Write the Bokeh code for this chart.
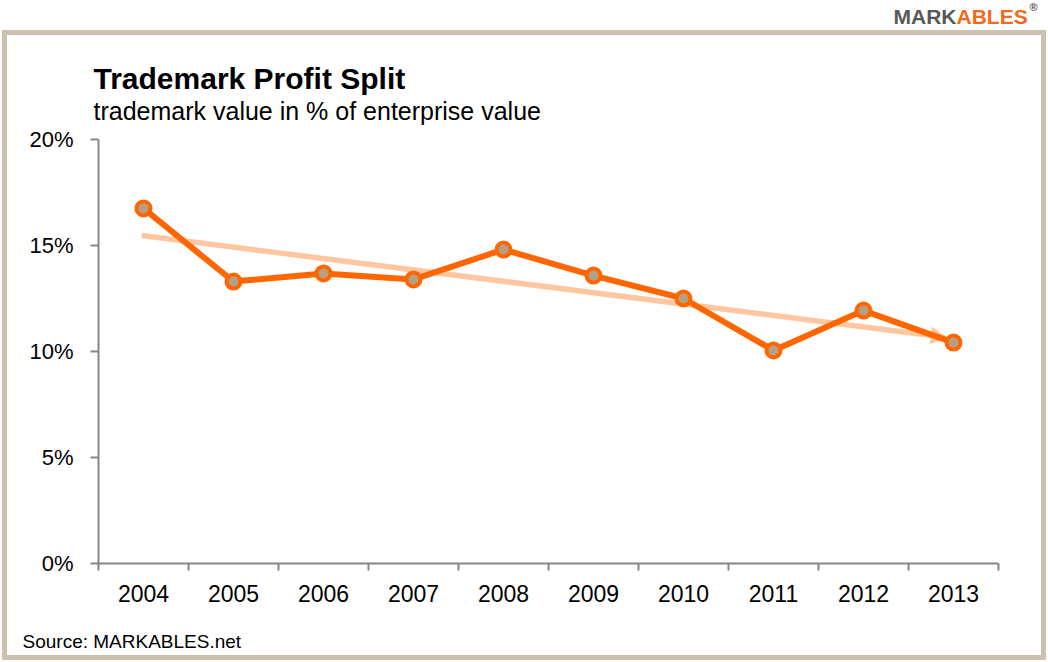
import numpy as np
from bokeh.plotting import figure
from bokeh.models import (Range1d, FixedTicker, NumeralTickFormatter, Label,
                          Arrow, NormalHead, ColumnDataSource)
from bokeh.embed import file_html
from bokeh.resources import INLINE

# ---------------- data ----------------
years = ["2004", "2005", "2006", "2007", "2008", "2009", "2010", "2011", "2012", "2013"]
tm_share = [0.1675, 0.1330, 0.1368, 0.1340, 0.1481, 0.1358, 0.1250, 0.1005, 0.1193, 0.1042]
y_ticks = [0.0, 0.05, 0.10, 0.15, 0.20]

title_text = "Trademark Profit Split"
subtitle_text = "trademark value in % of enterprise value"
source_text = "Source: MARKABLES.net"

# ---------------- layout ----------------
W, H = 1048, 662
FL, FR, FT, FB = 98, 998, 139, 563
X0, X1 = 0.0, float(len(years))
Y0, Y1 = 0.0, 0.20

def dx(fx):
    return X0 + (fx - FL) * (X1 - X0) / (FR - FL)

def dy(fy):
    return Y1 - (fy - FT) * (Y1 - Y0) / (FB - FT)

FONT = "Liberation Sans"
ORANGE = "#FF6600"
PEACH = "#FFC7A1"
GREY = "#868686"
BEIGE = "#CEC0AE"

p = figure(width=W, height=H, x_range=Range1d(X0, X1), y_range=Range1d(Y0, Y1),
           output_backend="svg", toolbar_location=None,
           min_border_left=FL, min_border_right=W - FR,
           min_border_top=FT, min_border_bottom=H - FB)
p.title.text = ""
p.grid.visible = False
p.outline_line_color = None
p.background_fill_color = "white"
p.border_fill_color = None

# beige frame drawn behind the transparent canvas border
g = f"linear-gradient({BEIGE},{BEIGE})"
p.styles = {
    "background": (f"{g} 2px 30px/1044px 5px no-repeat, "
                   f"{g} 2px 655px/1044px 5px no-repeat, "
                   f"{g} 2px 30px/5px 630px no-repeat, "
                   f"{g} 1041px 30px/5px 630px no-repeat, white"),
}

xpos = [i + 0.5 for i in range(len(years))]

# x axis
xa = p.xaxis[0]
xa.ticker = FixedTicker(ticks=xpos, minor_ticks=list(range(len(years) + 1)))
xa.major_label_overrides = {x: y for x, y in zip(xpos, years)}
xa.major_tick_out = 0
xa.major_tick_in = 0
xa.minor_tick_out = 7
xa.minor_tick_in = 0
xa.minor_tick_line_color = GREY
xa.minor_tick_line_width = 2
xa.axis_line_color = GREY
xa.axis_line_width = 2
xa.major_label_standoff = 14
xa.major_label_text_font = FONT
xa.major_label_text_font_size = "23px"
xa.major_label_text_color = "black"

# y axis
ya = p.yaxis[0]
ya.ticker = FixedTicker(ticks=y_ticks)
ya.formatter = NumeralTickFormatter(format="0%")
ya.major_tick_out = 8
ya.major_tick_in = 0
ya.minor_tick_out = 0
ya.minor_tick_in = 0
ya.major_tick_line_color = GREY
ya.major_tick_line_width = 2
ya.axis_line_color = GREY
ya.axis_line_width = 2
ya.major_label_standoff = 17
ya.major_label_text_font = FONT
ya.major_label_text_font_size = "22px"
ya.major_label_text_color = "black"

# trend arrow (least-squares fit of the series)
slope, intercept = np.polyfit(xpos, tm_share, 1)
xs_t, xe_t = xpos[0] - 0.02, xpos[-1] - 0.07
p.add_layout(Arrow(x_start=xs_t, y_start=intercept + slope * xs_t,
                   x_end=xe_t, y_end=intercept + slope * xe_t,
                   line_color=PEACH, line_width=5.5,
                   end=NormalHead(size=16, fill_color=PEACH, line_color=PEACH),
                   level="underlay"))

src = ColumnDataSource(dict(x=xpos, y=tm_share))
p.line("x", "y", source=src, line_color=ORANGE, line_width=6, line_join="round")
p.scatter("x", "y", source=src, size=14, fill_color="#B4A087",
          line_color=ORANGE, line_width=4)

# texts (in side panels so that they are not clipped to the data frame)
def lab(x, y, text, size, color="black", bold=False, side="above"):
    px = float(size.rstrip("px"))
    p.add_layout(Label(x=dx(x), y=dy(y - 0.3 * px), text=text, text_font=FONT,
                       text_font_size=size, text_font_style="bold" if bold else "normal",
                       text_color=color, text_baseline="alphabetic"), side)

lab(93, 87, title_text, "30px", bold=True)
lab(93, 118, subtitle_text, "25px")
lab(893, 22, "MARK", "21px", color="#58585A", bold=True)
lab(956, 22, "ABLES", "21px", color="#F06A22", bold=True)
lab(1029, 10, "®", "11px", color="#58585A", bold=True)
lab(22, 647, source_text, "19px", side="below")

open("out.html", "w").write(file_html(p, INLINE))
